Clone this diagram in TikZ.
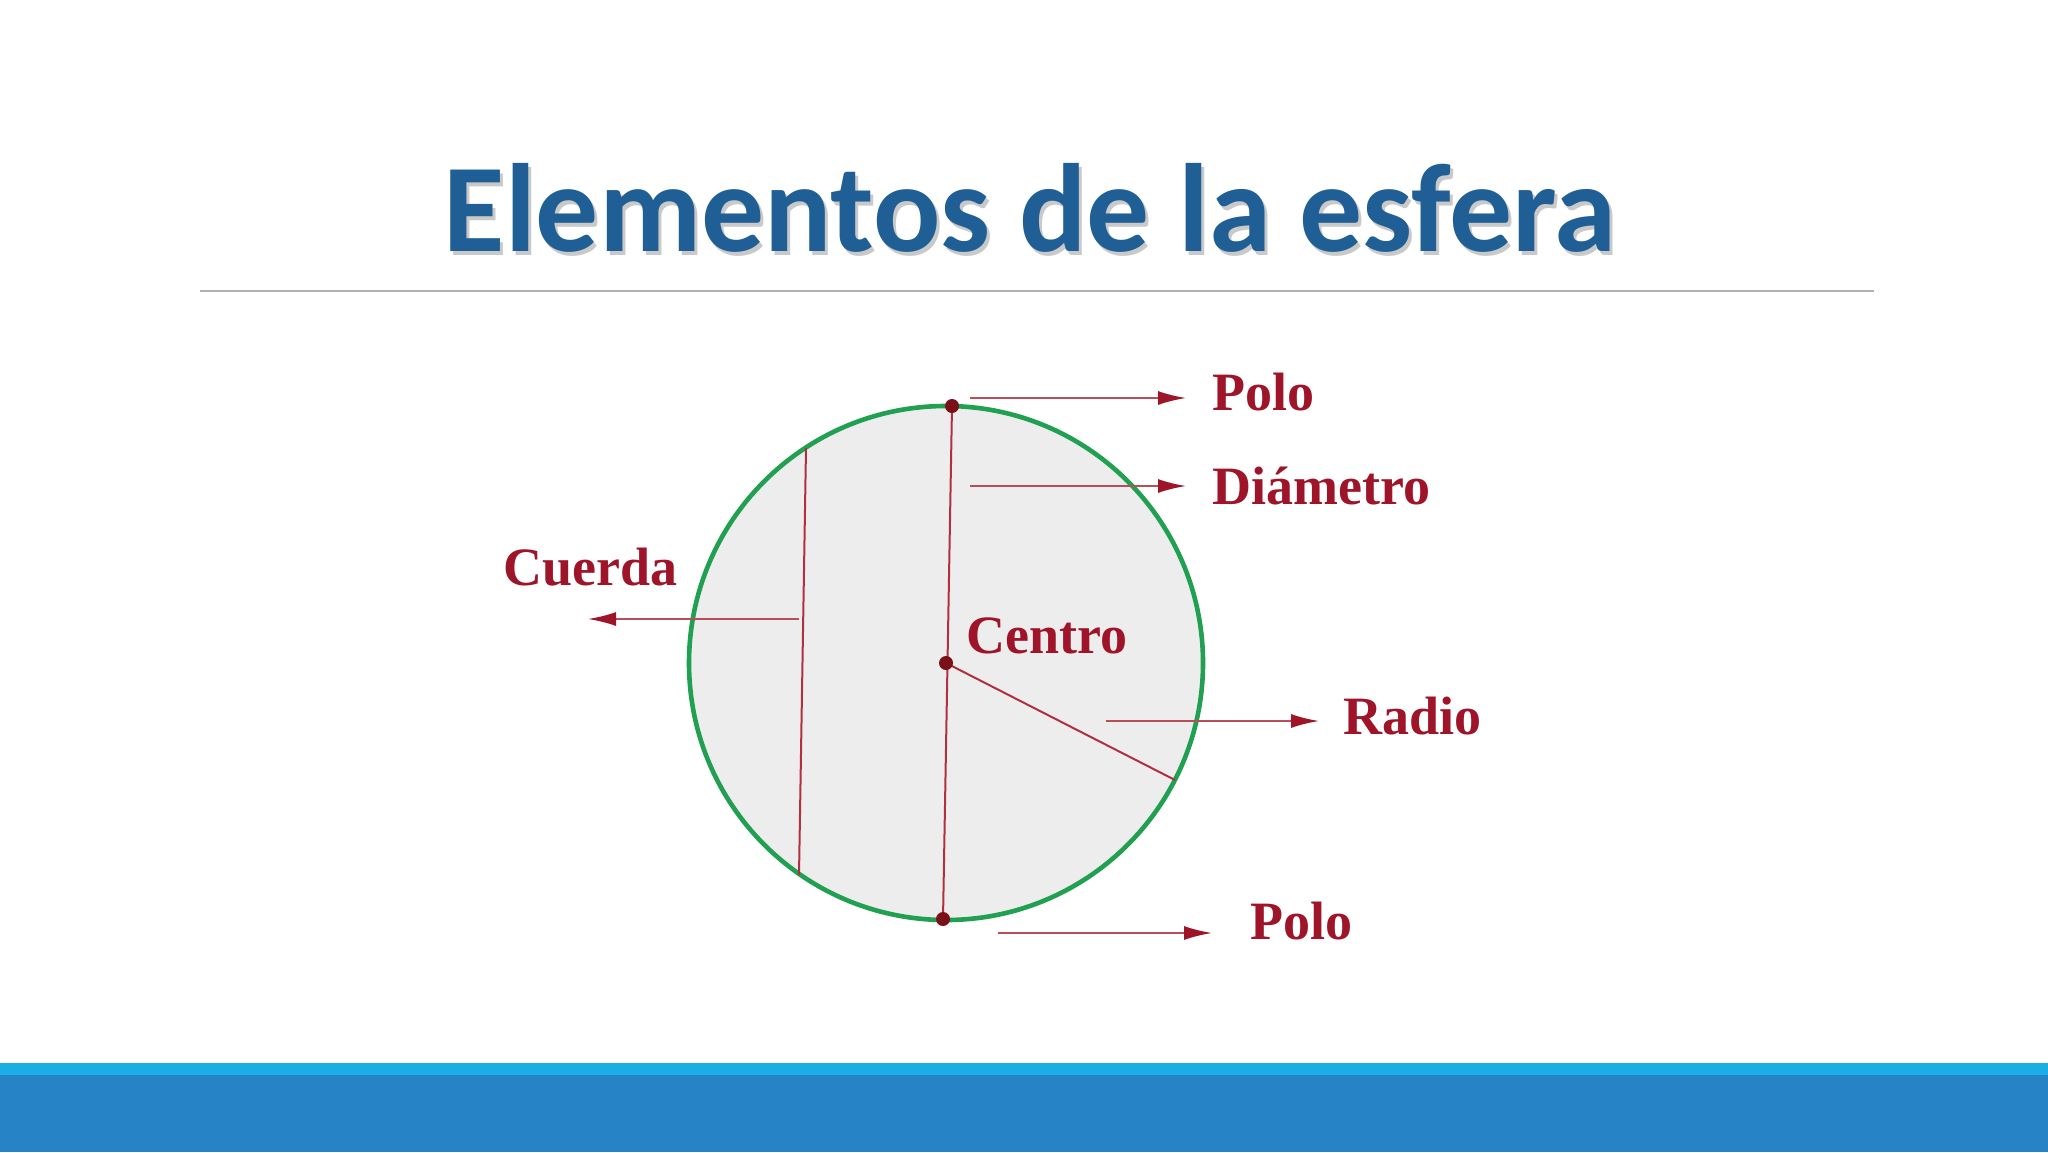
\documentclass[tikz,border=0pt]{standalone}
\usepackage{fontspec}
\setmainfont{Liberation Serif}
\newfontfamily\titlefont{Carlito}
\usetikzlibrary{arrows.meta}

\definecolor{titleblue}{HTML}{1F5F96}
\definecolor{rulegray}{HTML}{B0B0B0}
\definecolor{barlight}{HTML}{1AADE6}
\definecolor{bardark}{HTML}{2683C6}
\definecolor{ringgreen}{HTML}{20A050}
\definecolor{diskgray}{HTML}{EDEDED}
\definecolor{labelred}{HTML}{9E1428}
\definecolor{linered}{HTML}{B03040}
\definecolor{arrowred}{HTML}{B84E5A}
\definecolor{dotred}{HTML}{7A1018}

\begin{document}
\begin{tikzpicture}[x=0.5pt,y=-0.5pt,
    rotulo/.style={font=\fontsize{27}{32}\selectfont\bfseries, text=labelred, inner sep=0pt, anchor=base west},
    flecha/.style={draw=arrowred, line width=1pt, -{Latex[length=14pt,width=7pt,color=labelred]}},
    linea/.style={draw=linered, line width=1pt},
    punto/.style={circle, fill=dotred, inner sep=0pt, minimum size=7pt}]
  % slide background and bars
  \fill[white] (0,0) rectangle (2048,1152);
  \fill[barlight] (0,1063) rectangle (2048,1075);
  \fill[bardark] (0,1075) rectangle (2048,1152);
  \draw[rulegray, line width=0.7pt] (200,291) -- (1874,291);

  % title
  \node[font=\titlefont\fontsize{62.8}{70}\selectfont\bfseries, text=black!35, opacity=0.6, anchor=base] (sombra) at (1033,255) {Elementos de la esfera};
  \node[font=\titlefont\fontsize{62.8}{70}\selectfont\bfseries, text=titleblue, anchor=base] (titulo) at (1030,251) {Elementos de la esfera};

  % sphere
  \draw[ringgreen, line width=2.3pt, fill=diskgray] (946,663) circle[radius=128.5pt];
  \coordinate (pn) at (952,406);
  \coordinate (ps) at (943,919);
  \coordinate (c) at (946,663);
  \coordinate (cuerdaA) at (806,448);
  \coordinate (cuerdaB) at (799,875);
  \coordinate (radioB) at (1175,780);
  \draw[linea] (pn) -- (ps);
  \draw[linea] (cuerdaA) -- (cuerdaB);
  \draw[linea] (c) -- (radioB);
  \node[punto] (dotpn) at (pn) {};
  \node[punto] (dotps) at (ps) {};
  \node[punto] (dotc) at (c) {};

  % labels
  \node[rotulo] (polon) at (1212,410) {Polo};
  \node[rotulo] (diam) at (1212,504) {Diámetro};
  \node[rotulo] (cuerda) at (503,585) {Cuerda};
  \node[rotulo] (centro) at (966,653) {Centro};
  \node[rotulo] (radio) at (1343,734) {Radio};
  \node[rotulo] (polos) at (1250,939) {Polo};

  % arrows
  \coordinate (f1a) at (970,398);  \coordinate (f1b) at (1186,398);
  \coordinate (f2a) at (970,486);  \coordinate (f2b) at (1186,486);
  \coordinate (f3a) at (799,619);  \coordinate (f3b) at (588,619);
  \coordinate (f4a) at (1106,721); \coordinate (f4b) at (1319,721);
  \coordinate (f5a) at (998,933);  \coordinate (f5b) at (1212,933);
  \foreach \i in {1,...,5}
    \draw[flecha] (f\i a) -- (f\i b);
\end{tikzpicture}
\end{document}
